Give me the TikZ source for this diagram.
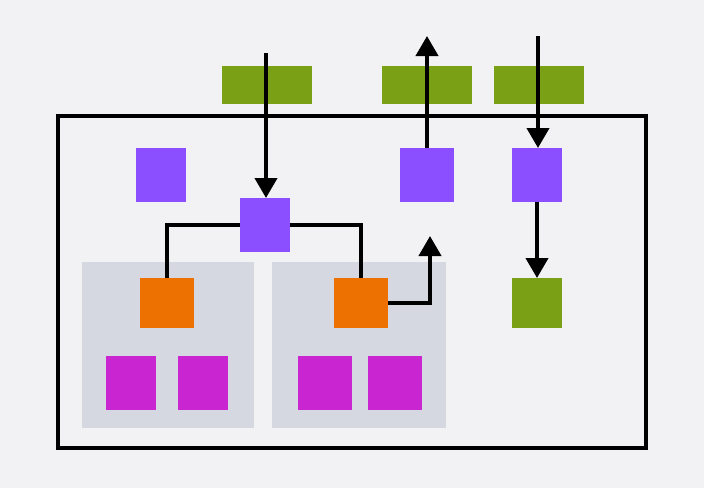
\documentclass[tikz,border=0pt]{standalone}
\usetikzlibrary{arrows.meta}
\definecolor{bgc}{HTML}{F2F2F4}
\definecolor{grn}{HTML}{7AA116}
\definecolor{pur}{HTML}{8C4FFF}
\definecolor{org}{HTML}{ED7100}
\definecolor{mag}{HTML}{C925D1}
\definecolor{grp}{HTML}{D5D8E0}
\begin{document}
\begin{tikzpicture}[x=1pt,y=-1pt,
  box/.style={draw=none,inner sep=0,outer sep=0,minimum width=#1},
  sq/.style={rectangle,inner sep=0,outer sep=0,draw=none},
  wire/.style={draw=black,line width=4pt},
  arr/.style={wire,-{Triangle[width=22pt,length=20pt]}}]
\fill[bgc] (0,0) rectangle (704,488);
\useasboundingbox (0,0) rectangle (704,488);
% containers
\fill[grp] (82,262) rectangle (254,428);
\fill[grp] (272,262) rectangle (446,428);
\draw[line width=4pt] (58,116) rectangle (646,448);
% top green bars
\node[sq,fill=grn,minimum width=90pt,minimum height=38pt] (g1) at (267,85) {};
\node[sq,fill=grn,minimum width=90pt,minimum height=38pt] (g2) at (427,85) {};
\node[sq,fill=grn,minimum width=90pt,minimum height=38pt] (g3) at (539,85) {};
% purple
\node[sq,fill=pur,minimum width=50pt,minimum height=54pt] (p1) at (161,175) {};
\node[sq,fill=pur,minimum width=50pt,minimum height=54pt] (p2) at (265,225) {};
\node[sq,fill=pur,minimum width=54pt,minimum height=54pt] (p3) at (427,175) {};
\node[sq,fill=pur,minimum width=50pt,minimum height=54pt] (p4) at (537,175) {};
% orange
\node[sq,fill=org,minimum width=54pt,minimum height=50pt] (o1) at (167,303) {};
\node[sq,fill=org,minimum width=54pt,minimum height=50pt] (o2) at (361,303) {};
% green bottom
\node[sq,fill=grn,minimum width=50pt,minimum height=50pt] (g4) at (537,303) {};
% magenta
\node[sq,fill=mag,minimum width=50pt,minimum height=54pt] (m1) at (131,383) {};
\node[sq,fill=mag,minimum width=50pt,minimum height=54pt] (m2) at (203,383) {};
\node[sq,fill=mag,minimum width=54pt,minimum height=54pt] (m3) at (325,383) {};
\node[sq,fill=mag,minimum width=54pt,minimum height=54pt] (m4) at (395,383) {};
% free ends
\coordinate (c1) at (266,53);
\coordinate (c2) at (427,36);
\coordinate (c3) at (538,36);
\coordinate (c4) at (430,236);
% connectors
\draw[arr] (c1) -- (c1 |- p2.north);
\draw[arr] (p3.north) -- (c2);
\draw[arr] (c3) -- (c3 |- p4.north);
\draw[arr] (p4.south) -- (g4.north);
\draw[wire] (p2.west) -| (o1.north);
\draw[wire] (p2.east) -| (o2.north);
\draw[arr] (o2.east) -| (c4);
\end{tikzpicture}
\end{document}
